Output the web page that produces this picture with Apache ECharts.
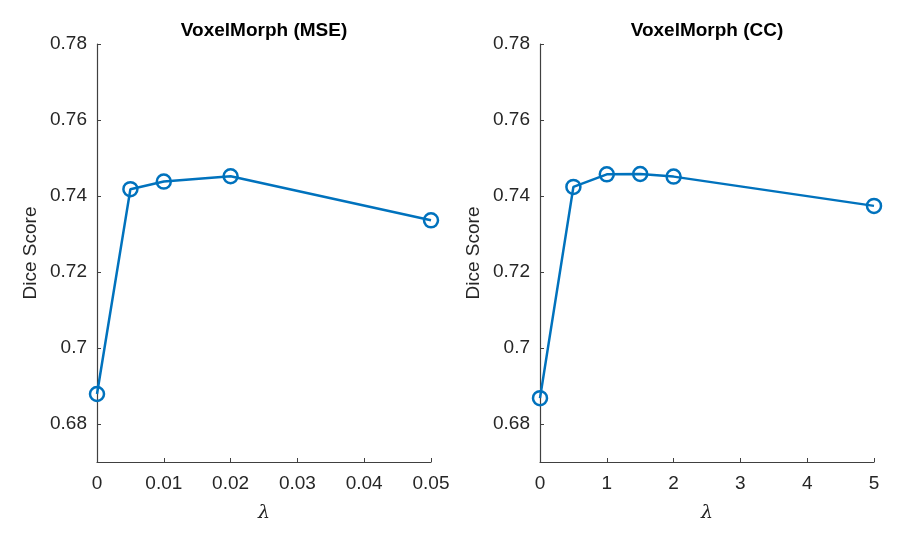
<!DOCTYPE html>
<html>
<head>
<meta charset="utf-8">
<script src="https://cdn.jsdelivr.net/npm/echarts@6/dist/echarts.min.js"></script>
<style>
html,body{margin:0;padding:0;background:#fff;}
#c{width:913px;height:535px;}
</style>
</head>
<body>
<div id="c"></div>
<script>
var titles = ['VoxelMorph (MSE)', 'VoxelMorph (CC)'];
var lambdaMSE = [0, 0.005, 0.01, 0.02, 0.05];
var diceMSE = [0.6879, 0.7418, 0.7438, 0.7452, 0.7336];
var lambdaCC = [0, 0.5, 1, 1.5, 2, 5];
var diceCC = [0.6868, 0.7424, 0.7457, 0.7458, 0.7451, 0.7374];
var yTicks = [0.68, 0.70, 0.72, 0.74, 0.76, 0.78];
var xTicksMSE = [0, 0.01, 0.02, 0.03, 0.04, 0.05];
var xTicksCC = [0, 1, 2, 3, 4, 5];

var FONT = '"Liberation Sans", Arial, Helvetica, sans-serif';
var TXT = '#262626';
var AX = '#404040';
var BLUE = '#0072BD';

function pairs(xs, ys) { return xs.map(function (x, i) { return [x, ys[i]]; }); }
function fmt(v) { return String(+(+v).toFixed(4)); }

var grids = [
  {left: 97, top: 44, width: 334, height: 418},
  {left: 540, top: 44, width: 334, height: 418}
];
var xTicks = [xTicksMSE, xTicksCC];

function xAxis(i) {
  var t = xTicks[i];
  return {
    type: 'value', gridIndex: i, min: t[0], max: t[t.length - 1],
    interval: t[1] - t[0],
    axisLine: {lineStyle: {color: AX, width: 1.2}},
    axisTick: {inside: true, length: 4, lineStyle: {color: AX}, customValues: t},
    axisLabel: {color: TXT, fontSize: 19, fontFamily: FONT, margin: 12, formatter: fmt, customValues: t},
    splitLine: {show: false},
    name: 'λ', nameLocation: 'middle', nameGap: 42,
    nameTextStyle: {color: TXT, fontSize: 19, fontStyle: 'italic', fontFamily: '"DejaVu Serif", serif'}
  };
}
function yAxis(i) {
  return {
    type: 'value', gridIndex: i, min: 0.67, max: 0.78,
    axisLine: {show: true, lineStyle: {color: AX, width: 1.2}},
    axisTick: {show: true, inside: true, length: 4, lineStyle: {color: AX}, customValues: yTicks},
    axisLabel: {color: TXT, fontSize: 19, fontFamily: FONT, margin: 10, formatter: fmt, customValues: yTicks},
    splitLine: {show: false},
    name: 'Dice Score', nameLocation: 'middle', nameGap: 57, nameRotate: 90,
    nameTextStyle: {color: TXT, fontSize: 19, fontFamily: FONT}
  };
}
function series(i, data) {
  return {
    type: 'line', xAxisIndex: i, yAxisIndex: i, data: data,
    symbol: 'circle', symbolSize: 14, clip: false, showAllSymbol: true,
    lineStyle: {color: BLUE, width: 2.5},
    itemStyle: {color: 'rgba(0,0,0,0)', borderColor: BLUE, borderWidth: 2.5},
    animation: false
  };
}

var chart = echarts.init(document.getElementById('c'), null, {renderer: 'canvas'});
chart.setOption({
  backgroundColor: '#fff',
  animation: false,
  title: titles.map(function (t, i) {
    return {
      text: t, left: grids[i].left + grids[i].width / 2, top: 21, textAlign: 'center', padding: 0,
      textStyle: {color: '#000', fontSize: 19, fontWeight: 'bold', fontFamily: FONT}
    };
  }),
  grid: grids,
  xAxis: [xAxis(0), xAxis(1)],
  yAxis: [yAxis(0), yAxis(1)],
  series: [series(0, pairs(lambdaMSE, diceMSE)), series(1, pairs(lambdaCC, diceCC))]
});
</script>
</body>
</html>
